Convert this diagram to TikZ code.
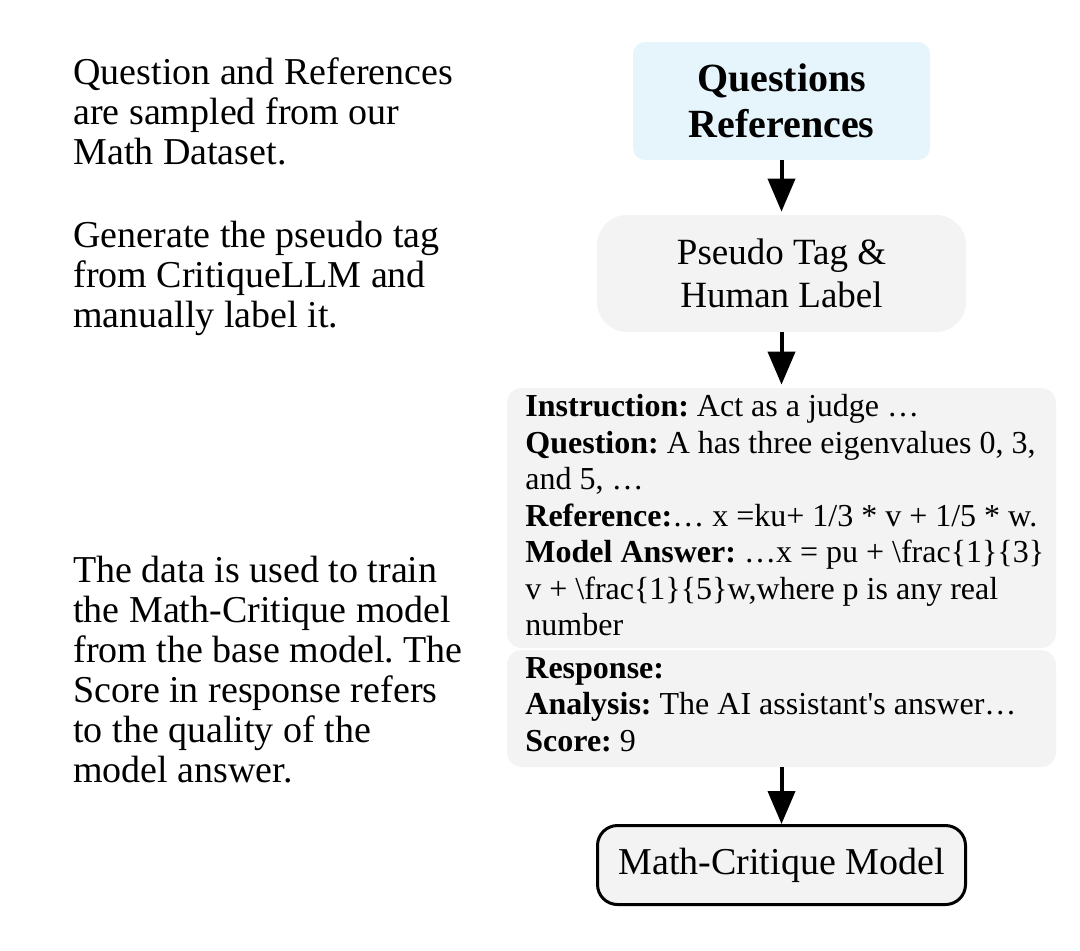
\documentclass[tikz,border=0pt]{standalone}
\usepackage{fontspec}
\setmainfont{Liberation Serif}
\usetikzlibrary{arrows.meta}

\definecolor{qblue}{HTML}{E6F5FC}
\definecolor{boxgray}{HTML}{F3F3F3}

\frenchspacing

\begin{document}
\begin{tikzpicture}[x=0.5pt,y=-0.5pt,
    note/.style={anchor=north west,align=left,inner sep=0pt,font=\fontsize{19}{20}\selectfont},
    flow/.style={fill=boxgray,rounded corners=7.5pt,minimum width=274.5pt},
    flowtext/.style={anchor=north west,align=left,inner sep=0pt,font=\fontsize{16}{18.25}\selectfont},
    link/.style={-{Triangle[width=13.5pt,length=16.5pt]},line width=2pt}]

            \useasboundingbox (0,0) rectangle (1080,950);

            % Notes on the left
            \foreach \i/\y/\txt in {
            1/57/{Question and References\\are sampled from our\\Math Dataset.},
            2/221/{Generate the pseudo tag\\from CritiqueLLM and\\manually label it.},
            3/556/{The data is used to train\\the Math-Critique model\\from the base model. The\\Score in response refers\\to the quality of the\\model answer.}} {
            \node [note] (note\i) at (73,\y) {\txt};
            }

            % Boxes of the flow
            \node [fill=qblue,rounded corners=6pt,minimum width=148.5pt,minimum height=59pt,align=center,
                   font=\bfseries\fontsize{20}{23}\selectfont] (qr) at (781.5,101) {Questions\\References};
            \node [fill=boxgray,rounded corners=15pt,minimum width=184.5pt,minimum height=58.5pt,align=center,
                   font=\fontsize{18.5}{21.5}\selectfont] (tag) at (781.5,273.5) {Pseudo Tag \&\\Human Label};

            \node [flow,minimum height=130pt] (instr) at (781.5,518) {};
            \node [flowtext] (instrtext) at (525,394) {\textbf{Instruction:} Act as a judge …\\
            \textbf{Question:} A has three eigenvalues 0, 3,\\
            and 5, …\\
            \textbf{Reference:}… x =ku+ 1/3 * v + 1/5 * w.\\
            \textbf{Model Answer:} …x = pu + \textbackslash frac\{1\}\{3\}\\
            v + \textbackslash frac\{1\}\{5\}w,where p is any real\\
            number};

            \node [flow,minimum height=58.5pt] (resp) at (781.5,708.5) {};
            \node [flowtext] (resptext) at (525,657) {\textbf{Response:}\\
            \textbf{Analysis:} The AI assistant\textquotesingle s answer…\\
            \textbf{Score:} 9};

            \node [draw,line width=1.5pt,fill=boxgray,rounded corners=10pt,minimum width=184pt,minimum height=39.5pt,
                   font=\fontsize{19}{22}\selectfont] (model) at (781.5,865) {Math-Critique Model};

            % Arrows
            \foreach \a/\b/\s in {qr/tag/1.5pt, tag/instr/1.5pt, resp/model/0pt} {
            \draw [link,shorten >=\s] (\a) -- (\b);
            }

\end{tikzpicture}
\end{document}
